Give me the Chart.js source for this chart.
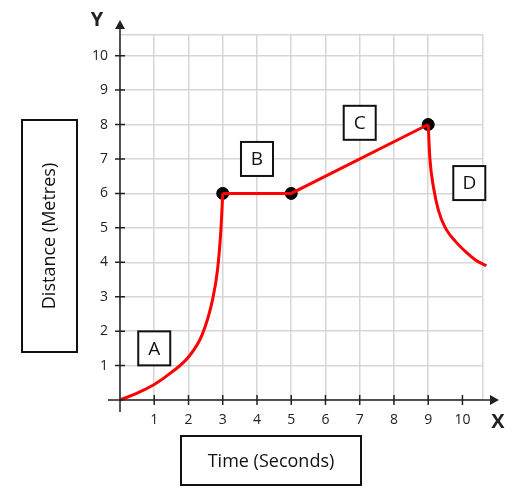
<!DOCTYPE html><html><head><script src="https://cdn.jsdelivr.net/npm/chart.js@4"></script>
<style>body{margin:0;background:#fff}canvas{display:block}</style></head><body>
<div style="width:515px;height:500px"><canvas id="c"></canvas></div>
<script>
const xTicks=[1,2,3,4,5,6,7,8,9,10];
const yTicks=[1,2,3,4,5,6,7,8,9,10];
const segA_x=[0,0.5,1,1.5,2,2.4,2.7,2.85,2.95,3];
const segA_y=[0,0.2,0.45,0.8,1.25,1.9,2.9,3.8,5,6];
const segBC_x=[3,5,9];
const segBC_y=[6,6,8];
const segD_x=[9,9.05,9.15,9.3,9.5,9.8,10.1,10.4,10.7];
const segD_y=[8,7,6.2,5.5,5,4.6,4.3,4.05,3.9];
const dots_x=[3,5,9];
const dots_y=[6,6,8];
const labels=[{t:'A',x:1,y:1.5},{t:'B',x:4,y:7},{t:'C',x:7,y:8.05},{t:'D',x:10.2,y:6.3}];
const pts=(xs,ys)=>xs.map((x,i)=>({x,y:ys[i]}));
const F='"Open Sans", sans-serif';
const deco={id:'deco',afterDatasetsDraw(ch){
 const c=ch.ctx,xs=ch.scales.x,ys=ch.scales.y;
 const ox=xs.getPixelForValue(0),oy=ys.getPixelForValue(0);
 c.save();c.strokeStyle='#222';c.fillStyle='#222';c.lineWidth=1.5;
 c.beginPath();c.moveTo(ox-12,oy);c.lineTo(497,oy);c.moveTo(ox,oy+12);c.lineTo(ox,22);c.stroke();
 c.beginPath();c.moveTo(499,oy);c.lineTo(490,oy-5);c.lineTo(490,oy+5);c.closePath();c.fill();
 c.beginPath();c.moveTo(ox,20);c.lineTo(ox-5,29);c.lineTo(ox+5,29);c.closePath();c.fill();
 c.font='14px '+F;c.textAlign='center';c.textBaseline='middle';
 c.beginPath();
 xTicks.forEach(v=>{const p=xs.getPixelForValue(v);c.moveTo(p,oy-5);c.lineTo(p,oy+5);c.fillText(String(v),p,oy+20);});
 c.textAlign='right';
 yTicks.forEach(v=>{const p=ys.getPixelForValue(v);c.moveTo(ox-5,p);c.lineTo(ox+5,p);c.fillText(String(v),ox-12,p);});
 c.stroke();
 c.font='bold 20px '+F;c.textAlign='center';c.fillText('Y',97,20);c.fillText('X',498,422);
 c.lineWidth=2;c.strokeStyle='#111';c.fillStyle='#111';
 labels.forEach(l=>{const px=xs.getPixelForValue(l.x),py=ys.getPixelForValue(l.y);
  c.fillStyle='#fff';c.fillRect(px-16,py-17,32,34);c.strokeRect(px-16,py-17,32,34);
  c.fillStyle='#111';c.font='19px '+F;c.fillText(l.t,px,py+1);});
 c.strokeRect(181,436,180,49);c.font='18px '+F;c.fillText('Time (Seconds)',271,462);
 c.strokeRect(22,120,55,232);
 c.translate(50,236);c.rotate(-Math.PI/2);c.fillText('Distance (Metres)',0,0);
 c.restore();}};
new Chart(document.getElementById('c'),{type:'scatter',
 data:{datasets:[
  {data:pts(segA_x,segA_y),showLine:true,borderColor:'#f00',borderWidth:3,pointRadius:0,cubicInterpolationMode:'monotone',clip:false},
  {data:pts(segBC_x,segBC_y),showLine:true,borderColor:'#f00',borderWidth:3,pointRadius:0,tension:0,clip:false},
  {data:pts(segD_x,segD_y),showLine:true,borderColor:'#f00',borderWidth:3,pointRadius:0,cubicInterpolationMode:'monotone',clip:false},
  {data:pts(dots_x,dots_y),showLine:false,pointRadius:6,pointBackgroundColor:'#000',pointBorderColor:'#000',clip:false}]},
 options:{responsive:true,maintainAspectRatio:false,animation:false,
  layout:{padding:{left:120,right:32,top:35,bottom:100}},
  plugins:{legend:{display:false},tooltip:{enabled:false}},
  scales:{x:{type:'linear',min:0,max:10.6,ticks:{display:false,stepSize:1},grid:{color:'#d6d6d6',lineWidth:1.5,drawTicks:false},border:{display:false}},
   y:{type:'linear',min:0,max:10.6,ticks:{display:false,stepSize:1},grid:{color:'#d6d6d6',lineWidth:1.5,drawTicks:false},border:{display:false}}}},
 plugins:[deco]});
</script></body></html>
